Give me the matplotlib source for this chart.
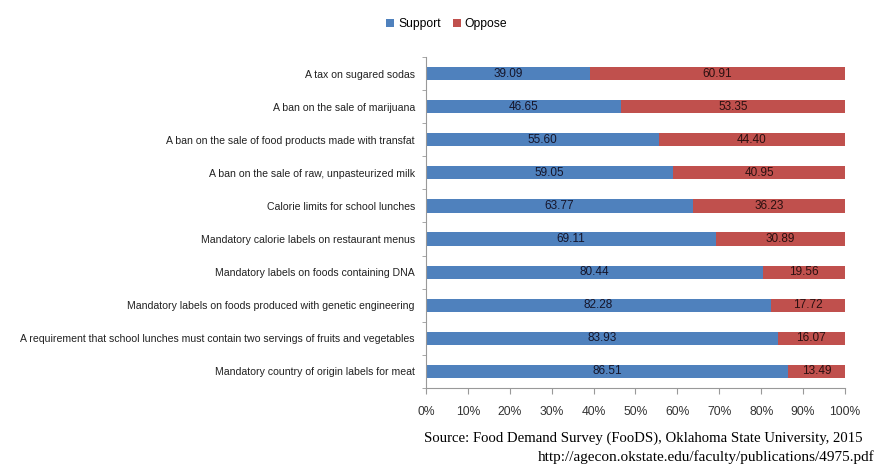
import matplotlib
matplotlib.use("Agg")

import numpy as np
import matplotlib.pyplot as plt
from matplotlib.ticker import MultipleLocator, PercentFormatter

categories = [
    "A tax on sugared sodas",
    "A ban on the sale of marijuana",
    "A ban on the sale of food products made with transfat",
    "A ban on the sale of raw, unpasteurized milk",
    "Calorie limits for school lunches",
    "Mandatory calorie labels on restaurant menus",
    "Mandatory labels on foods containing DNA",
    "Mandatory labels on foods produced with genetic engineering",
    "A requirement that school lunches must contain two servings of fruits and vegetables",
    "Mandatory country of origin labels for meat",
]
support = [39.09, 46.65, 55.60, 59.05, 63.77, 69.11, 80.44, 82.28, 83.93, 86.51]
oppose = [60.91, 53.35, 44.40, 40.95, 36.23, 30.89, 19.56, 17.72, 16.07, 13.49]

source_line1 = "Source: Food Demand Survey (FooDS), Oklahoma State University, 2015"
source_line2 = "http://agecon.okstate.edu/faculty/publications/4975.pdf"

blue = "#4F81BD"
red = "#C0504D"
sans = ["Liberation Sans", "DejaVu Sans"]
serif = ["Liberation Serif", "DejaVu Serif"]

fig = plt.figure(figsize=(8.88, 4.70), dpi=100)
ax = fig.add_axes([0.4797, 0.1745, 0.4718, 0.7043])

y = np.arange(len(categories))
h = 0.40
b1 = ax.barh(y, support, height=h, color=blue, label="Support")
b2 = ax.barh(y, oppose, height=h, left=support, color=red, label="Oppose")

for rect, v in zip(b1, support):
    ax.text(rect.get_x() + rect.get_width() / 2, rect.get_y() + h / 2, f"{v:.2f}",
            ha="center", va="center", fontsize=8.5, color="#15152a", family=sans)
for rect, v in zip(b2, oppose):
    ax.text(rect.get_x() + rect.get_width() / 2, rect.get_y() + h / 2, f"{v:.2f}",
            ha="center", va="center", fontsize=8.5, color="#2a1010", family=sans)

ax.set_xlim(0, 100)
ax.set_ylim(len(categories) - 0.5, -0.5)
ax.xaxis.set_major_locator(MultipleLocator(10))
ax.xaxis.set_major_formatter(PercentFormatter(decimals=0))
ax.set_yticks(y)
ax.set_yticklabels(categories, family=sans, fontsize=7.6, color="#222222")
ax.set_yticks(np.arange(-0.5, len(categories), 1), minor=True)

ax.tick_params(axis="y", which="major", length=0, pad=8)
ax.tick_params(axis="y", which="minor", length=3, color="#999999")
ax.tick_params(axis="x", length=4, color="#999999", pad=9, labelsize=8.7, labelcolor="#333333")
for lab in ax.get_xticklabels():
    lab.set_family(sans)

for s in ["top", "right"]:
    ax.spines[s].set_visible(False)
ax.spines["left"].set_color("#999999")
ax.spines["bottom"].set_color("#999999")

fig.legend(handles=[b1, b2], labels=["Support", "Oppose"], loc="center",
           bbox_to_anchor=(0.503, 0.948), ncol=2, frameon=False,
           prop={"family": sans, "size": 8.7}, handlelength=0.7, handleheight=0.7,
           handletextpad=0.3, columnspacing=1.0)

fig.text(0.971, 0.068, source_line1, ha="right", va="center", fontsize=10.6, family=serif)
fig.text(0.985, 0.028, source_line2, ha="right", va="center", fontsize=11, family=serif)

fig.savefig("out.png", dpi=100)
